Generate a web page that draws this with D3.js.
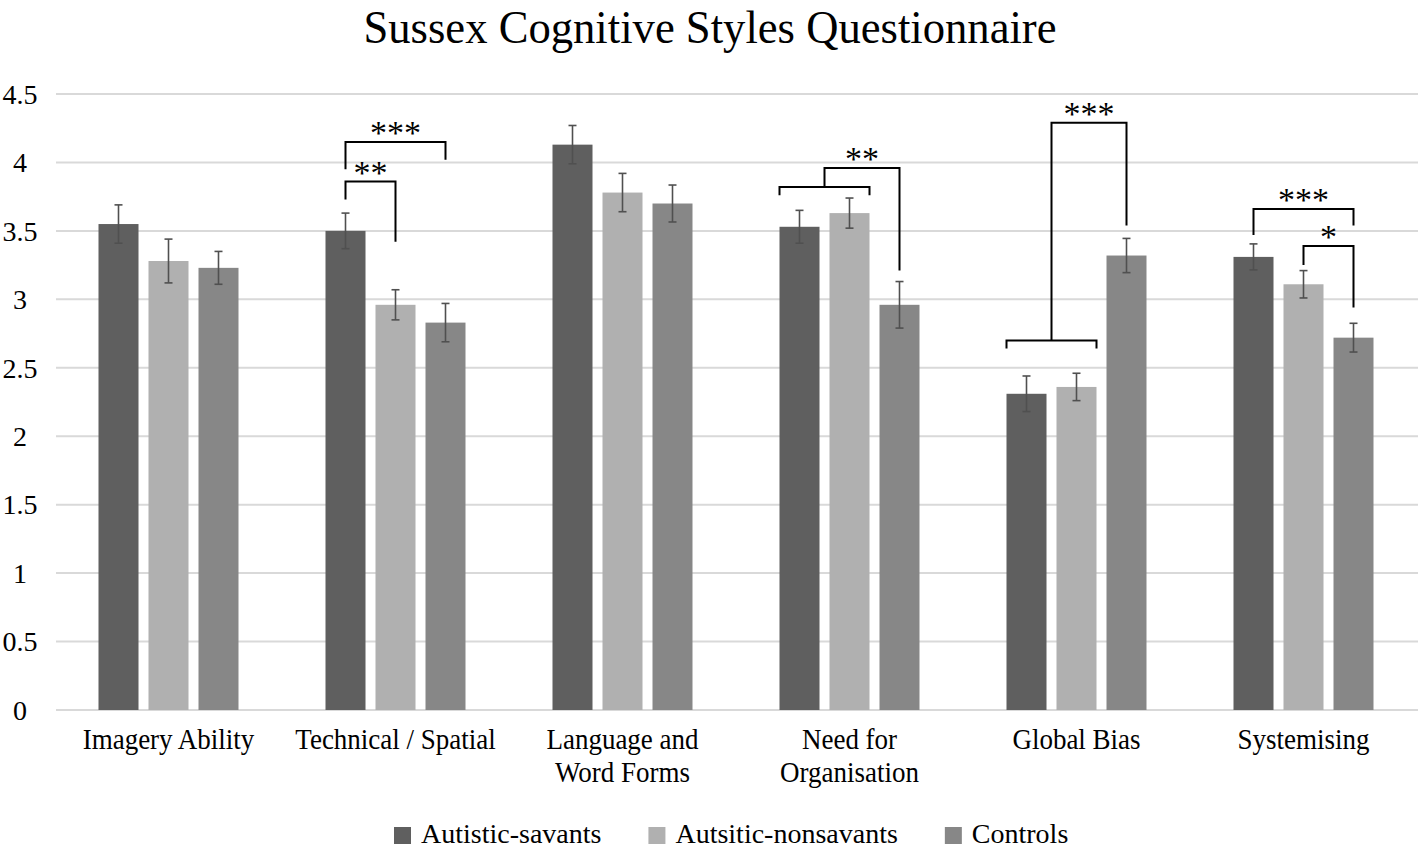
<!DOCTYPE html>
<html>
<head>
<meta charset="utf-8">
<script src="https://cdn.jsdelivr.net/npm/d3@7"></script>
<style>
  html, body { margin: 0; padding: 0; background: #fff; }
  svg { display: block; }
  text { font-family: "Liberation Serif", "Times New Roman", serif; fill: #000; }
</style>
</head>
<body>
<script>
// ---- Data ----
const title = "Sussex Cognitive Styles Questionnaire";
const categories = ["Imagery Ability", "Technical / Spatial", "Language and Word Forms", "Need for Organisation", "Global Bias", "Systemising"];
const categoryLines = [["Imagery Ability"], ["Technical / Spatial"], ["Language and", "Word Forms"], ["Need for", "Organisation"], ["Global Bias"], ["Systemising"]];
const seriesNames = ["Autistic-savants", "Autsitic-nonsavants", "Controls"];
const savants      = [3.55, 3.50, 4.13, 3.53, 2.31, 3.31];
const nonsavants   = [3.28, 2.96, 3.78, 3.63, 2.36, 3.11];
const controls     = [3.23, 2.83, 3.70, 2.96, 3.32, 2.72];
const savantsErr    = [0.14, 0.13, 0.14, 0.12, 0.13, 0.095];
const nonsavantsErr = [0.16, 0.11, 0.14, 0.11, 0.10, 0.10];
const controlsErr   = [0.12, 0.14, 0.135, 0.17, 0.125, 0.105];
const yTicks = [0, 0.5, 1, 1.5, 2, 2.5, 3, 3.5, 4, 4.5];
const yTickLabels = ["0", "0.5", "1", "1.5", "2", "2.5", "3", "3.5", "4", "4.5"];
// significance brackets (levels in data units)
const brackets = [
  {cat: "Technical / Spatial",   from: 0, to: 2, top: 4.15, fromEnd: 3.95, toEnd: 4.02, label: "***"},
  {cat: "Technical / Spatial",   from: 0, to: 1, top: 3.86, fromEnd: 3.73, toEnd: 3.42, label: "**"},
  {cat: "Need for Organisation", group: [0, 1], groupLevel: 3.82, groupTick: 3.76, to: 2, top: 3.96, toEnd: 3.21, label: "**"},
  {cat: "Global Bias",           group: [0, 1], groupLevel: 2.70, groupTick: 2.64, to: 2, top: 4.29, toEnd: 3.54, label: "***"},
  {cat: "Systemising",           from: 0, to: 2, top: 3.66, fromEnd: 3.47, toEnd: 3.54, label: "***"},
  {cat: "Systemising",           from: 1, to: 2, top: 3.39, fromEnd: 3.25, toEnd: 2.94, label: "*"}
];

const colors = ["#5f5f5f", "#b0b0b0", "#878787"];
const values = [savants, nonsavants, controls];
const errs = [savantsErr, nonsavantsErr, controlsErr];

// ---- Layout ----
const W = 1418, H = 848;
const svg = d3.select("body").append("svg").attr("width", W).attr("height", H);

const y = d3.scaleLinear().domain([0, 4.5]).range([710, 94]);
const x0 = d3.scaleBand().domain(categories).range([55, 1417]);
const groupW = 140;
const x1 = d3.scaleBand().domain([0, 1, 2]).range([0, groupW]).paddingInner(0.2);
const gx = c => x0(c) + (x0.bandwidth() - groupW) / 2;
const barCenter = (c, i) => gx(c) + x1(i) + x1.bandwidth() / 2;

// title
svg.append("g").attr("transform", "translate(710,43) scale(0.95,1)")
  .append("text").attr("x", 0).attr("y", 0).attr("text-anchor", "middle")
  .style("font-size", "47px").text(title);

// gridlines
svg.append("g").selectAll("line").data(yTicks).join("line")
  .attr("x1", 56).attr("x2", 1418)
  .attr("y1", d => y(d)).attr("y2", d => y(d))
  .attr("stroke", "#d9d9d9").attr("stroke-width", 2);

// y tick labels
svg.append("g").selectAll("text").data(yTicks).join("text")
  .attr("x", 20).attr("y", d => y(d)).attr("dy", "0.35em")
  .attr("text-anchor", "middle").style("font-size", "28px")
  .text((d, i) => yTickLabels[i]);

// bars
const rows = [];
categories.forEach((c, ci) => values.forEach((v, si) => rows.push({c, si, v: v[ci], e: errs[si][ci]})));
svg.append("g").selectAll("rect").data(rows).join("rect")
  .attr("x", d => gx(d.c) + x1(d.si))
  .attr("width", x1.bandwidth())
  .attr("y", d => y(d.v))
  .attr("height", d => y(0) - y(d.v))
  .attr("fill", d => colors[d.si]);

// error bars
const eg = svg.append("g").attr("stroke", "#505050").attr("stroke-width", 1.6);
rows.forEach(d => {
  const cx = barCenter(d.c, d.si);
  eg.append("line").attr("x1", cx).attr("x2", cx).attr("y1", y(d.v + d.e)).attr("y2", y(d.v - d.e));
  eg.append("line").attr("x1", cx - 4).attr("x2", cx + 4).attr("y1", y(d.v + d.e)).attr("y2", y(d.v + d.e));
  eg.append("line").attr("x1", cx - 4).attr("x2", cx + 4).attr("y1", y(d.v - d.e)).attr("y2", y(d.v - d.e));
});

// category labels
const cl = svg.append("g");
categories.forEach((c, i) => {
  const g = cl.append("g").attr("transform", `translate(${x0(c) + x0.bandwidth() / 2},0) scale(0.9,1)`);
  const t = g.append("text").attr("x", 0).attr("y", 749)
    .attr("text-anchor", "middle").style("font-size", "30px");
  categoryLines[i].forEach((ln, k) => {
    t.append("tspan").attr("x", 0).attr("y", 749 + k * 33).text(ln);
  });
});

// significance brackets
const bg = svg.append("g");
brackets.forEach(b => {
  const xr = barCenter(b.cat, b.to);
  let xl, path;
  if (b.group) {
    const gl = gx(b.cat) + x1(b.group[0]);
    const gr = gx(b.cat) + x1(b.group[1]) + x1.bandwidth();
    xl = (gl + gr) / 2;
    bg.append("path").attr("d", `M${gl},${y(b.groupTick)}V${y(b.groupLevel)}H${gr}V${y(b.groupTick)}`)
      .attr("fill", "none").attr("stroke", "#000").attr("stroke-width", 2);
    path = `M${xl},${y(b.groupLevel)}V${y(b.top)}H${xr}V${y(b.toEnd)}`;
  } else {
    xl = barCenter(b.cat, b.from);
    path = `M${xl},${y(b.fromEnd)}V${y(b.top)}H${xr}V${y(b.toEnd)}`;
  }
  bg.append("path").attr("d", path).attr("fill", "none").attr("stroke", "#000").attr("stroke-width", 2);
  bg.append("text").attr("x", (xl + xr) / 2).attr("y", y(b.top) + 2)
    .attr("text-anchor", "middle").style("font-size", "34px").text(b.label);
});

// legend
const lg = svg.append("g");
let lx = 394;
seriesNames.forEach((n, i) => {
  lg.append("rect").attr("x", lx).attr("y", 827).attr("width", 17).attr("height", 17).attr("fill", colors[i]);
  const t = lg.append("text").attr("x", lx + 27).attr("y", 843).style("font-size", "28px").text(n);
  lx = lx + 27 + t.node().getComputedTextLength() + 47;
});
</script>
</body>
</html>
